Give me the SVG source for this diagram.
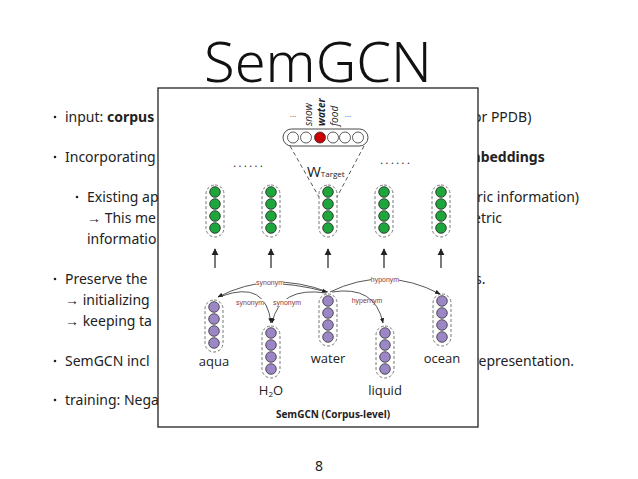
<svg xmlns="http://www.w3.org/2000/svg" width="638" height="479" viewBox="0 0 638 479">
<defs>
<style>
.t{font-family:"Noto Sans","Liberation Sans",sans-serif;font-size:14px;fill:#222}
.b{font-weight:bold}
.cap{fill:none;stroke:#777;stroke-width:1;stroke-dasharray:3,2}
.g{fill:#1ea53c;stroke:#222;stroke-width:0.8}
.p{fill:#9b86c6;stroke:#333;stroke-width:0.8}
.o{fill:#fff;stroke:#333;stroke-width:0.8}
.e{fill:none;stroke:#444;stroke-width:0.9}
.a{fill:none;stroke:#222;stroke-width:1.2}
.el{font-family:"Liberation Sans",sans-serif;font-size:7px;fill:#8b3a3a;text-anchor:middle}
.lb{font-family:"Open Sans","Liberation Sans",sans-serif;font-size:13px;fill:#222;text-anchor:middle}
</style>
<marker id="ah" viewBox="0 0 10 10" refX="9" refY="5" markerWidth="6" markerHeight="6" orient="auto"><path d="M0,1L10,5L0,9z" fill="#222"/></marker>
<marker id="big" viewBox="0 0 10 10" refX="9" refY="5" markerWidth="6" markerHeight="6" orient="auto"><path d="M0,0L10,5L0,10z" fill="#222"/></marker>
<g id="gcol"><rect class="cap" x="-9" y="-7" width="18" height="52" rx="9"/><circle class="g" cy="0" r="5.3"/><circle class="g" cy="12" r="5.3"/><circle class="g" cy="24" r="5.3"/><circle class="g" cy="36" r="5.3"/></g>
<g id="pcol"><rect class="cap" x="-9" y="-7" width="18" height="52" rx="9"/><circle class="p" cy="0" r="5.3"/><circle class="p" cy="12" r="5.3"/><circle class="p" cy="24" r="5.3"/><circle class="p" cy="36" r="5.3"/></g>
</defs>
<rect width="638" height="479" fill="#fff"/>
<text x="318" y="82" text-anchor="middle" font-family="Noto Sans,Liberation Sans,sans-serif" font-size="56" font-weight="300" fill="#111">SemGCN</text>
<g id="bullets">
<circle cx="55" cy="117" r="1.3" fill="#222"/><text class="t" x="65" y="122">input: <tspan class="b">corpus</tspan></text>
<circle cx="55" cy="157" r="1.3" fill="#222"/><text class="t" x="65" y="162">Incorporating</text>
<circle cx="77" cy="197" r="1.3" fill="#222"/><text class="t" x="87" y="202">Existing ap</text>
<text class="t" x="87" y="223">→ This me</text>
<text class="t" x="87" y="244">informatio</text>
<circle cx="55" cy="279" r="1.3" fill="#222"/><text class="t" x="65" y="284">Preserve the</text>
<text class="t" x="65" y="305">→ initializing</text>
<text class="t" x="65" y="326">→ keeping ta</text>
<circle cx="55" cy="361" r="1.3" fill="#222"/><text class="t" x="65" y="366">SemGCN incl</text>
<circle cx="55" cy="400" r="1.3" fill="#222"/><text class="t" x="65" y="405">training: Nega</text>
<text class="t" x="473" y="122">or PPDB)</text>
<text class="t b" x="467" y="162">mbeddings</text>
<text class="t" x="472" y="202">tric information)</text>
<text class="t" x="473" y="223">etric</text>
<text class="t" x="475" y="284">s.</text>
<text class="t" x="473" y="366">representation.</text>
<text class="t" x="319" y="471" text-anchor="middle" font-size="14">8</text>
</g>
<rect x="158" y="88" width="320" height="339" fill="#fff" stroke="#222" stroke-width="1.3"/>
<g id="target">
<text font-family="Liberation Sans,sans-serif" font-size="8" fill="#333" x="293" y="117" text-anchor="middle">...</text>
<text font-family="Liberation Sans,sans-serif" font-size="8" fill="#333" x="348" y="117" text-anchor="middle">...</text>
<text font-family="Open Sans,Liberation Sans,sans-serif" font-size="10" font-style="italic" fill="#222" transform="translate(312,126) rotate(-90)">snow</text>
<text font-family="Open Sans,Liberation Sans,sans-serif" font-size="10" font-style="italic" font-weight="bold" fill="#222" transform="translate(325,126) rotate(-90)">water</text>
<text font-family="Open Sans,Liberation Sans,sans-serif" font-size="10" font-style="italic" fill="#222" transform="translate(338,126) rotate(-90)">food</text>
<rect x="283" y="129" width="85" height="17" rx="8.5" fill="#fff" stroke="#333" stroke-width="0.9"/>
<circle class="o" cx="293" cy="137.5" r="5.5"/><circle class="o" cx="306" cy="137.5" r="5.5"/><circle cx="320" cy="137.5" r="5.5" fill="#c00" stroke="#333" stroke-width="0.8"/><circle class="o" cx="333" cy="137.5" r="5.5"/><circle class="o" cx="345" cy="137.5" r="5.5"/><circle class="o" cx="358" cy="137.5" r="5.5"/>
<path d="M290,146L319,197M364,146L337,197" fill="none" stroke="#444" stroke-width="0.9" stroke-dasharray="4,3"/>
<text font-family="Open Sans,Liberation Sans,sans-serif" font-size="15" fill="#222" x="307" y="177">W<tspan font-size="8">Target</tspan></text>
<text font-family="Liberation Sans,sans-serif" font-size="12" fill="#333" x="233" y="167" letter-spacing="2">......</text>
<text font-family="Liberation Sans,sans-serif" font-size="12" fill="#333" x="380" y="164" letter-spacing="2">......</text>
</g>
<g id="green">
<use href="#gcol" x="215" y="192"/><use href="#gcol" x="271" y="192"/><use href="#gcol" x="328" y="192"/><use href="#gcol" x="384" y="192"/><use href="#gcol" x="441" y="192"/>
</g>
<g id="nodes">
<g id="aqua"><use href="#pcol" x="214" y="307"/><text class="lb" x="214" y="366">aqua</text></g>
<g id="h2o"><use href="#pcol" x="271" y="333"/><text class="lb" x="271" y="395">H<tspan font-size="8" dy="2">2</tspan><tspan dy="-2">O</tspan></text></g>
<g id="water"><use href="#pcol" x="328" y="301"/><text class="lb" x="328" y="363">water</text></g>
<g id="liquid"><use href="#pcol" x="385" y="333"/><text class="lb" x="385" y="395">liquid</text></g>
<g id="ocean"><use href="#pcol" x="442" y="301"/><text class="lb" x="442" y="363">ocean</text></g>
<text x="333" y="418" text-anchor="middle" font-family="Open Sans,Liberation Sans,sans-serif" font-size="10" font-weight="bold" fill="#222">SemGCN (Corpus-level)</text>
</g>
<g id="connectors">
<path class="a" d="M215,268V249" marker-end="url(#big)"/><path class="a" d="M271,268V249" marker-end="url(#big)"/><path class="a" d="M328,268V249" marker-end="url(#big)"/><path class="a" d="M384,268V249" marker-end="url(#big)"/><path class="a" d="M441,268V249" marker-end="url(#big)"/>
<path class="e" d="M328,292Q270,270 218,297" marker-end="url(#ah)"/>
<path class="e" d="M260,283Q295,283 327,292" marker-end="url(#ah)"/>
<path class="e" d="M222,296Q266,280 271,323" marker-end="url(#ah)"/>
<path class="e" d="M326,293Q280,286 272,323" marker-end="url(#ah)"/>
<path class="e" d="M330,292Q385,265 440,294" marker-end="url(#ah)"/>
<path class="e" d="M332,292Q375,285 383,323" marker-end="url(#ah)"/>
<g>
<rect x="256" y="279" width="28" height="7" fill="#fff"/><text class="el" x="270" y="285">synonym</text>
<rect x="236" y="299" width="28" height="7" fill="#fff"/><text class="el" x="250" y="305">synonym</text>
<rect x="273" y="299" width="28" height="7" fill="#fff"/><text class="el" x="287" y="305">synonym</text>
<rect x="371" y="276" width="28" height="7" fill="#fff"/><text class="el" x="385" y="282">hyponym</text>
<text class="el" x="367" y="303">hypernym</text>
</g>
</g>
</svg>
